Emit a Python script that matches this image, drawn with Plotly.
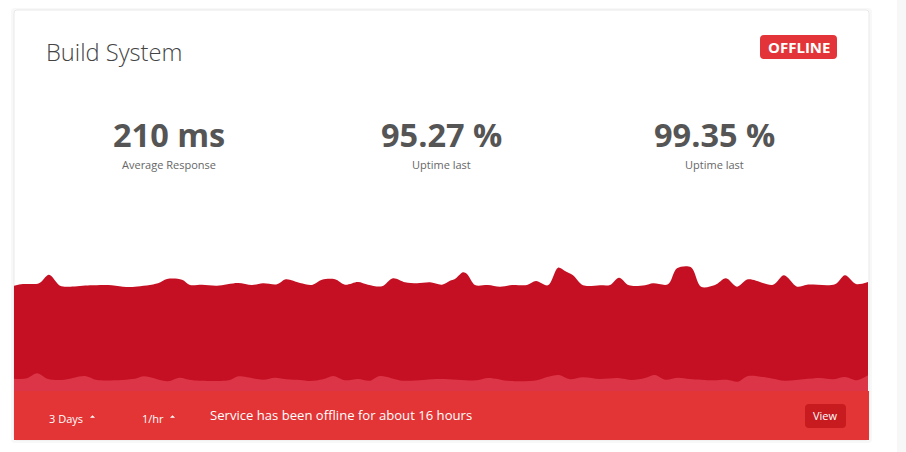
import plotly.graph_objects as go

W, H = 906, 452

# upper series
top_x = [0, 9, 25, 35, 46, 56, 76, 94, 109, 121, 144, 153, 168, 176, 188, 203, 224, 238, 249, 263,
         272, 286, 298, 308, 321, 331, 344, 354, 368, 379, 391, 403, 416, 428, 436, 441, 449,
         453, 461, 474, 486, 498, 513, 522, 534, 544, 551, 559, 569, 586, 596, 605, 615, 631, 639,
         654, 663, 677, 687, 701, 712, 723, 734, 759, 770, 783, 793, 821, 831, 842, 854]
top_y = [105.3, 107, 107.7, 116.3, 105.3, 104.3, 105.7, 106, 104.3, 104.3, 107.7, 112, 111.3, 106, 106.3,
         105.3, 108, 106, 107.7, 106.7, 111.7, 108, 106, 111.3, 111.7, 106.3, 109, 106.3, 104.7,
         112.7, 108.7, 107.7, 108.7, 106.3, 110.3, 112, 118.7, 117, 106, 106, 104.3, 106, 106, 110,
         105.7, 123.3, 120, 115.7, 105.7, 105.7, 106, 113.3, 105.7, 105.7, 107.7, 106.7, 122.7, 123.7,
         104.3, 106, 112.7, 104.3, 111.7, 106.3, 115.7, 104.3, 106.3, 106.7, 115.7, 107, 109]

# lower series
low_x = [0, 13, 23, 34, 48, 71, 83, 121, 130, 154, 165, 179, 216, 224, 249, 261, 273, 286, 296, 309,
         319, 331, 344, 356, 366, 389, 426, 463, 474, 496, 523, 533, 545, 556, 569, 586, 604, 618,
         631, 641, 651, 664, 676, 699, 713, 724, 734, 759, 771, 806, 819, 831, 843, 854]
low_y = [12.3, 12.7, 17.7, 12, 11, 15, 11, 12.3, 14.7, 9.7, 13.3, 10.7, 11, 14.7, 11.3, 13.3, 11.7, 11,
         10, 11.7, 15, 10.7, 12, 10.3, 15, 10.3, 12, 10.7, 13, 10, 10.7, 14, 16, 11.7, 13.7, 12, 13, 11,
         13, 16, 11.3, 13.3, 12, 10.7, 11.3, 9.3, 15, 12.3, 10.3, 13, 11.7, 14, 10.7, 15.7]

metric_values = ["210 ms", "95.27 %", "99.35 %"]
metric_labels = ["Average Response", "Uptime last", "Uptime last"]

RED_DARK = "#c41022"
RED_MID = "#dc3547"
RED_FOOT = "#e33535"
FONT = "Open Sans"


def fx(p):
    return p / W


def fy(p):
    return 1 - p / H


def box(x0, y0, x1, y1, r, fill, line=None):
    # rounded rect in page pixels
    X0, X1, Y0, Y1 = fx(x0), fx(x1), fy(y0), fy(y1)
    rx, ry = fx(r), r / H
    path = (f"M {X0 + rx} {Y0} L {X1 - rx} {Y0} Q {X1} {Y0} {X1} {Y0 - ry} "
            f"L {X1} {Y1 + ry} Q {X1} {Y1} {X1 - rx} {Y1} L {X0 + rx} {Y1} "
            f"Q {X0} {Y1} {X0} {Y1 + ry} L {X0} {Y0 - ry} Q {X0} {Y0} {X0 + rx} {Y0} Z")
    return dict(type="path", xref="paper", yref="paper", path=path, fillcolor=fill,
                line=dict(color=line or fill, width=1 if line else 0), layer="below")


def caret(cx, cy):
    path = f"M {fx(cx - 2.5)} {fy(cy + 1.2)} L {fx(cx)} {fy(cy - 1.3)} L {fx(cx + 2.5)} {fy(cy + 1.2)} Z"
    return dict(type="path", xref="paper", yref="paper", path=path, fillcolor="white",
                line=dict(width=0))


def label(text, x, y, size, color="#555555", weight=400, anchor="center"):
    return dict(text=text, x=fx(x), y=fy(y), xref="paper", yref="paper", xanchor=anchor, yanchor="middle",
                showarrow=False, font=dict(family=FONT, size=size, color=color, weight=weight))


fig = go.Figure()
fig.add_trace(go.Scatter(x=top_x, y=top_y, mode="lines", fill="tozeroy", fillcolor=RED_DARK,
                         line=dict(color=RED_DARK, width=0, shape="spline", smoothing=0.9),
                         hoverinfo="skip"))
fig.add_trace(go.Scatter(x=low_x, y=low_y, mode="lines", fill="tozeroy", fillcolor=RED_MID,
                         line=dict(color=RED_MID, width=0, shape="spline", smoothing=0.9),
                         hoverinfo="skip"))

shapes = [
    dict(type="rect", xref="paper", yref="paper", x0=fx(897), x1=1, y0=0, y1=1,
         fillcolor="#f7f7f7", line=dict(width=0), layer="below"),
    box(11, 8, 872, 443, 4, "#f8f8f8"),
    box(14, 10, 869, 440, 3, "#ffffff", "#e9e9e9"),
    box(14, 391, 869, 440, 0, RED_FOOT),
    box(760, 35, 837, 59, 4, "#e33539"),
    box(805, 404, 846, 428, 4, "#c81b1f"),
    caret(92.5, 416.5),
    caret(172.5, 416.5),
]

annotations = [
    label("Build System", 114, 51.5, 23.7, "#444444", 300),
    label("OFFLINE", 799, 47, 15, "#ffffff", 700),
    label("3 Days", 66, 418, 11, "#ffffff"),
    label("1/hr", 153, 418, 11, "#ffffff"),
    label("Service has been offline for about 16 hours", 340.5, 415, 13.1, "#ffffff"),
    label("View", 825.5, 415.5, 11, "#ffffff"),
]
for cx, val, lab in zip([168.5, 441, 714], metric_values, metric_labels):
    annotations.append(label(val, cx, 134.5, 32.5, "#555555", 700))
    annotations.append(label(lab, cx, 165, 11, "#666666"))

fig.update_layout(
    width=W, height=H, autosize=False,
    margin=dict(l=0, r=0, t=0, b=0),
    paper_bgcolor="#ffffff", plot_bgcolor="rgba(0,0,0,0)",
    showlegend=False, shapes=shapes, annotations=annotations,
    xaxis=dict(domain=[fx(14), fx(868)], range=[0, 854], visible=False, fixedrange=True),
    yaxis=dict(domain=[fy(391), fy(260)], range=[0, 131], visible=False, fixedrange=True),
)

fig.write_html("out.html", config=dict(displayModeBar=False),
               post_script="document.body.style.margin='0';document.body.style.overflow='hidden';")
